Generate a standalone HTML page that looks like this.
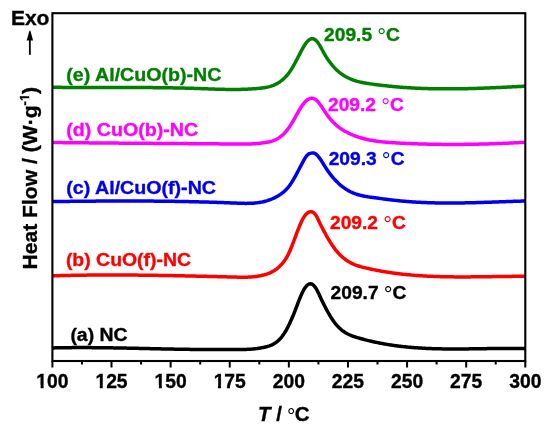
<!DOCTYPE html>
<html><head><meta charset="utf-8"><title>DSC curves</title>
<style>
html,body{margin:0;padding:0;background:#fff;width:550px;height:434px;overflow:hidden}
svg{display:block}
text{font-family:"Liberation Sans",Arial,sans-serif;font-weight:bold;stroke:currentColor;stroke-width:0.35px}
.deg{font-weight:normal;stroke:none}
</style></head><body>
<svg width="550" height="434" viewBox="0 0 550 434"><rect width="550" height="434" fill="#fff"/><path d="M52.4,87.27 53.4,87.29 54.4,87.30 55.4,87.31 56.4,87.32 57.4,87.33 58.4,87.34 59.4,87.35 60.4,87.36 61.4,87.37 62.4,87.38 63.4,87.39 64.4,87.40 65.4,87.41 66.4,87.41 67.4,87.42 68.4,87.43 69.4,87.44 70.4,87.44 71.4,87.45 72.4,87.45 73.4,87.46 74.4,87.46 75.4,87.47 76.4,87.47 77.4,87.48 78.4,87.48 79.4,87.48 80.4,87.49 81.4,87.49 82.4,87.49 83.4,87.49 84.4,87.50 85.4,87.50 86.4,87.50 87.4,87.50 88.4,87.50 89.4,87.51 90.4,87.51 91.4,87.51 92.4,87.51 93.4,87.51 94.4,87.51 95.4,87.51 96.4,87.51 97.4,87.51 98.4,87.51 99.4,87.51 100.4,87.51 101.4,87.51 102.4,87.51 103.4,87.51 104.4,87.51 105.4,87.51 106.4,87.51 107.4,87.51 108.4,87.51 109.4,87.51 110.4,87.51 111.4,87.51 112.4,87.51 113.4,87.51 114.4,87.51 115.4,87.51 116.4,87.51 117.4,87.51 118.4,87.51 119.4,87.51 120.4,87.51 121.4,87.51 122.4,87.51 123.4,87.51 124.4,87.51 125.4,87.51 126.4,87.52 127.4,87.52 128.4,87.52 129.4,87.52 130.4,87.52 131.4,87.52 132.4,87.53 133.4,87.53 134.4,87.53 135.4,87.53 136.4,87.54 137.4,87.54 138.4,87.54 139.4,87.55 140.4,87.55 141.4,87.55 142.4,87.56 143.4,87.56 144.4,87.57 145.4,87.57 146.4,87.58 147.4,87.59 148.4,87.59 149.4,87.60 150.4,87.61 151.4,87.61 152.4,87.62 153.4,87.63 154.4,87.64 155.4,87.65 156.4,87.66 157.4,87.67 158.4,87.68 159.4,87.69 160.4,87.70 161.4,87.71 162.4,87.72 163.4,87.73 164.4,87.75 165.4,87.76 166.4,87.77 167.4,87.79 168.4,87.80 169.4,87.82 170.4,87.83 171.4,87.85 172.4,87.87 173.4,87.89 174.4,87.90 175.4,87.92 176.4,87.94 177.4,87.96 178.4,87.98 179.4,88.00 180.4,88.02 181.4,88.05 182.4,88.07 183.4,88.09 184.4,88.12 185.4,88.14 186.4,88.17 187.4,88.19 188.4,88.22 189.4,88.25 190.4,88.27 191.4,88.30 192.4,88.33 193.4,88.36 194.4,88.39 195.4,88.42 196.4,88.46 197.4,88.49 198.4,88.52 199.4,88.56 200.4,88.59 201.4,88.63 202.4,88.67 203.4,88.70 204.4,88.74 205.4,88.78 206.4,88.81 207.4,88.85 208.4,88.89 209.4,88.92 210.4,88.96 211.4,88.99 212.4,89.03 213.4,89.06 214.4,89.10 215.4,89.13 216.4,89.16 217.4,89.19 218.4,89.22 219.4,89.25 220.4,89.28 221.4,89.31 222.4,89.33 223.4,89.35 224.4,89.37 225.4,89.39 226.4,89.41 227.4,89.42 228.4,89.44 229.4,89.45 230.4,89.46 231.4,89.46 232.4,89.47 233.4,89.47 234.4,89.47 235.4,89.46 236.4,89.46 237.4,89.44 238.4,89.43 239.4,89.41 240.4,89.40 241.4,89.37 242.4,89.35 243.4,89.31 244.4,89.28 245.4,89.24 246.4,89.20 247.4,89.16 248.4,89.11 249.4,89.05 250.4,88.99 251.4,88.93 252.4,88.87 253.4,88.79 254.4,88.72 255.4,88.64 256.4,88.55 257.4,88.46 258.4,88.37 259.4,88.27 260.4,88.16 261.4,88.05 262.4,87.93 263.4,87.79 264.4,87.65 265.4,87.49 266.4,87.31 267.4,87.10 268.4,86.88 269.4,86.63 270.4,86.35 271.4,86.04 272.4,85.70 273.4,85.32 274.4,84.90 275.4,84.44 276.4,83.94 277.4,83.39 278.4,82.80 279.4,82.16 280.4,81.46 281.4,80.70 282.4,79.89 283.4,79.02 284.4,78.09 285.4,77.09 286.4,76.01 287.4,74.85 288.4,73.60 289.4,72.26 290.4,70.82 291.4,69.27 292.4,67.63 293.4,65.90 294.4,64.11 295.4,62.26 296.4,60.37 297.4,58.45 298.4,56.52 299.4,54.59 300.4,52.67 301.4,50.79 302.4,48.95 303.4,47.18 304.4,45.51 305.4,43.97 306.4,42.59 307.4,41.38 308.4,40.39 309.4,39.61 310.4,39.07 311.4,38.76 312.4,38.69 313.4,38.85 314.4,39.26 315.4,39.91 316.4,40.80 317.4,41.95 318.4,43.32 319.4,44.89 320.4,46.62 321.4,48.44 322.4,50.29 323.4,52.13 324.4,53.91 325.4,55.59 326.4,57.20 327.4,58.73 328.4,60.20 329.4,61.60 330.4,62.94 331.4,64.21 332.4,65.42 333.4,66.57 334.4,67.66 335.4,68.70 336.4,69.69 337.4,70.62 338.4,71.50 339.4,72.34 340.4,73.13 341.4,73.87 342.4,74.58 343.4,75.24 344.4,75.87 345.4,76.46 346.4,77.01 347.4,77.53 348.4,78.03 349.4,78.49 350.4,78.93 351.4,79.34 352.4,79.73 353.4,80.09 354.4,80.43 355.4,80.76 356.4,81.06 357.4,81.35 358.4,81.61 359.4,81.86 360.4,82.10 361.4,82.32 362.4,82.53 363.4,82.73 364.4,82.91 365.4,83.09 366.4,83.25 367.4,83.41 368.4,83.57 369.4,83.71 370.4,83.86 371.4,84.00 372.4,84.13 373.4,84.27 374.4,84.40 375.4,84.53 376.4,84.66 377.4,84.79 378.4,84.91 379.4,85.04 380.4,85.16 381.4,85.28 382.4,85.40 383.4,85.51 384.4,85.63 385.4,85.74 386.4,85.85 387.4,85.95 388.4,86.06 389.4,86.16 390.4,86.27 391.4,86.36 392.4,86.46 393.4,86.56 394.4,86.65 395.4,86.74 396.4,86.83 397.4,86.92 398.4,87.00 399.4,87.08 400.4,87.16 401.4,87.24 402.4,87.32 403.4,87.39 404.4,87.46 405.4,87.53 406.4,87.60 407.4,87.67 408.4,87.73 409.4,87.79 410.4,87.85 411.4,87.91 412.4,87.97 413.4,88.02 414.4,88.08 415.4,88.13 416.4,88.18 417.4,88.22 418.4,88.27 419.4,88.31 420.4,88.35 421.4,88.39 422.4,88.43 423.4,88.47 424.4,88.50 425.4,88.54 426.4,88.57 427.4,88.60 428.4,88.63 429.4,88.65 430.4,88.68 431.4,88.70 432.4,88.72 433.4,88.74 434.4,88.76 435.4,88.78 436.4,88.79 437.4,88.81 438.4,88.82 439.4,88.83 440.4,88.84 441.4,88.85 442.4,88.86 443.4,88.86 444.4,88.87 445.4,88.87 446.4,88.87 447.4,88.87 448.4,88.87 449.4,88.87 450.4,88.87 451.4,88.86 452.4,88.85 453.4,88.85 454.4,88.84 455.4,88.83 456.4,88.82 457.4,88.81 458.4,88.79 459.4,88.78 460.4,88.76 461.4,88.75 462.4,88.73 463.4,88.71 464.4,88.69 465.4,88.67 466.4,88.65 467.4,88.63 468.4,88.60 469.4,88.58 470.4,88.55 471.4,88.53 472.4,88.50 473.4,88.47 474.4,88.44 475.4,88.41 476.4,88.38 477.4,88.35 478.4,88.32 479.4,88.28 480.4,88.25 481.4,88.21 482.4,88.18 483.4,88.14 484.4,88.11 485.4,88.07 486.4,88.03 487.4,87.99 488.4,87.95 489.4,87.91 490.4,87.87 491.4,87.83 492.4,87.79 493.4,87.74 494.4,87.70 495.4,87.66 496.4,87.61 497.4,87.57 498.4,87.52 499.4,87.48 500.4,87.43 501.4,87.39 502.4,87.34 503.4,87.29 504.4,87.24 505.4,87.20 506.4,87.15 507.4,87.10 508.4,87.05 509.4,87.00 510.4,86.95 511.4,86.90 512.4,86.85 513.4,86.80 514.4,86.75 515.4,86.70 516.4,86.65 517.4,86.60 518.4,86.55 519.4,86.50 520.4,86.45 521.4,86.39 522.4,86.34 523.4,86.29 524.4,86.24 525.3,86.19" fill="none" stroke="#008000" stroke-width="3.5" stroke-linejoin="round" stroke-linecap="butt"/><path d="M52.4,142.52 53.4,142.53 54.4,142.54 55.4,142.55 56.4,142.56 57.4,142.57 58.4,142.58 59.4,142.59 60.4,142.60 61.4,142.61 62.4,142.62 63.4,142.64 64.4,142.65 65.4,142.66 66.4,142.67 67.4,142.68 68.4,142.69 69.4,142.70 70.4,142.71 71.4,142.72 72.4,142.73 73.4,142.74 74.4,142.74 75.4,142.75 76.4,142.76 77.4,142.77 78.4,142.78 79.4,142.79 80.4,142.80 81.4,142.81 82.4,142.82 83.4,142.83 84.4,142.84 85.4,142.85 86.4,142.86 87.4,142.87 88.4,142.87 89.4,142.88 90.4,142.89 91.4,142.90 92.4,142.91 93.4,142.92 94.4,142.93 95.4,142.94 96.4,142.94 97.4,142.95 98.4,142.96 99.4,142.97 100.4,142.98 101.4,142.99 102.4,142.99 103.4,143.00 104.4,143.01 105.4,143.02 106.4,143.03 107.4,143.03 108.4,143.04 109.4,143.05 110.4,143.06 111.4,143.07 112.4,143.07 113.4,143.08 114.4,143.09 115.4,143.10 116.4,143.11 117.4,143.11 118.4,143.12 119.4,143.13 120.4,143.14 121.4,143.14 122.4,143.15 123.4,143.16 124.4,143.17 125.4,143.17 126.4,143.18 127.4,143.19 128.4,143.20 129.4,143.20 130.4,143.21 131.4,143.22 132.4,143.23 133.4,143.23 134.4,143.24 135.4,143.25 136.4,143.26 137.4,143.26 138.4,143.27 139.4,143.28 140.4,143.29 141.4,143.29 142.4,143.30 143.4,143.31 144.4,143.31 145.4,143.32 146.4,143.33 147.4,143.34 148.4,143.34 149.4,143.35 150.4,143.36 151.4,143.36 152.4,143.37 153.4,143.38 154.4,143.39 155.4,143.39 156.4,143.40 157.4,143.41 158.4,143.41 159.4,143.42 160.4,143.43 161.4,143.44 162.4,143.44 163.4,143.45 164.4,143.46 165.4,143.46 166.4,143.47 167.4,143.48 168.4,143.49 169.4,143.49 170.4,143.50 171.4,143.51 172.4,143.51 173.4,143.52 174.4,143.53 175.4,143.54 176.4,143.54 177.4,143.55 178.4,143.56 179.4,143.57 180.4,143.57 181.4,143.58 182.4,143.59 183.4,143.59 184.4,143.60 185.4,143.61 186.4,143.62 187.4,143.62 188.4,143.63 189.4,143.64 190.4,143.65 191.4,143.65 192.4,143.66 193.4,143.67 194.4,143.68 195.4,143.68 196.4,143.69 197.4,143.70 198.4,143.71 199.4,143.72 200.4,143.72 201.4,143.73 202.4,143.74 203.4,143.75 204.4,143.75 205.4,143.76 206.4,143.77 207.4,143.78 208.4,143.79 209.4,143.79 210.4,143.80 211.4,143.81 212.4,143.82 213.4,143.83 214.4,143.84 215.4,143.84 216.4,143.85 217.4,143.86 218.4,143.87 219.4,143.88 220.4,143.89 221.4,143.89 222.4,143.90 223.4,143.91 224.4,143.92 225.4,143.93 226.4,143.94 227.4,143.95 228.4,143.96 229.4,143.96 230.4,143.97 231.4,143.98 232.4,143.99 233.4,144.00 234.4,144.01 235.4,144.02 236.4,144.03 237.4,144.04 238.4,144.04 239.4,144.05 240.4,144.05 241.4,144.06 242.4,144.05 243.4,144.05 244.4,144.04 245.4,144.03 246.4,144.02 247.4,144.00 248.4,143.98 249.4,143.95 250.4,143.92 251.4,143.88 252.4,143.83 253.4,143.78 254.4,143.72 255.4,143.66 256.4,143.58 257.4,143.50 258.4,143.41 259.4,143.31 260.4,143.20 261.4,143.09 262.4,142.96 263.4,142.82 264.4,142.67 265.4,142.51 266.4,142.34 267.4,142.16 268.4,141.96 269.4,141.74 270.4,141.49 271.4,141.22 272.4,140.91 273.4,140.56 274.4,140.17 275.4,139.74 276.4,139.26 277.4,138.73 278.4,138.14 279.4,137.48 280.4,136.77 281.4,135.98 282.4,135.12 283.4,134.19 284.4,133.17 285.4,132.07 286.4,130.90 287.4,129.64 288.4,128.31 289.4,126.90 290.4,125.42 291.4,123.86 292.4,122.23 293.4,120.54 294.4,118.78 295.4,117.00 296.4,115.20 297.4,113.41 298.4,111.64 299.4,109.91 300.4,108.25 301.4,106.68 302.4,105.20 303.4,103.85 304.4,102.63 305.4,101.56 306.4,100.63 307.4,99.84 308.4,99.22 309.4,98.75 310.4,98.44 311.4,98.29 312.4,98.32 313.4,98.52 314.4,98.91 315.4,99.47 316.4,100.23 317.4,101.17 318.4,102.27 319.4,103.52 320.4,104.88 321.4,106.32 322.4,107.82 323.4,109.35 324.4,110.88 325.4,112.39 326.4,113.86 327.4,115.25 328.4,116.58 329.4,117.86 330.4,119.07 331.4,120.22 332.4,121.32 333.4,122.37 334.4,123.36 335.4,124.31 336.4,125.20 337.4,126.06 338.4,126.87 339.4,127.64 340.4,128.37 341.4,129.06 342.4,129.72 343.4,130.34 344.4,130.94 345.4,131.51 346.4,132.05 347.4,132.56 348.4,133.06 349.4,133.53 350.4,133.99 351.4,134.42 352.4,134.85 353.4,135.25 354.4,135.65 355.4,136.03 356.4,136.39 357.4,136.74 358.4,137.08 359.4,137.40 360.4,137.71 361.4,138.00 362.4,138.29 363.4,138.56 364.4,138.82 365.4,139.07 366.4,139.31 367.4,139.54 368.4,139.75 369.4,139.96 370.4,140.16 371.4,140.34 372.4,140.52 373.4,140.69 374.4,140.85 375.4,141.01 376.4,141.15 377.4,141.29 378.4,141.42 379.4,141.54 380.4,141.66 381.4,141.77 382.4,141.87 383.4,141.97 384.4,142.07 385.4,142.16 386.4,142.24 387.4,142.32 388.4,142.40 389.4,142.47 390.4,142.54 391.4,142.61 392.4,142.67 393.4,142.73 394.4,142.79 395.4,142.85 396.4,142.91 397.4,142.96 398.4,143.02 399.4,143.07 400.4,143.13 401.4,143.18 402.4,143.23 403.4,143.28 404.4,143.32 405.4,143.37 406.4,143.42 407.4,143.46 408.4,143.51 409.4,143.55 410.4,143.59 411.4,143.63 412.4,143.67 413.4,143.71 414.4,143.75 415.4,143.78 416.4,143.82 417.4,143.85 418.4,143.89 419.4,143.92 420.4,143.95 421.4,143.98 422.4,144.01 423.4,144.04 424.4,144.07 425.4,144.09 426.4,144.12 427.4,144.14 428.4,144.16 429.4,144.19 430.4,144.21 431.4,144.23 432.4,144.25 433.4,144.27 434.4,144.28 435.4,144.30 436.4,144.32 437.4,144.33 438.4,144.34 439.4,144.36 440.4,144.37 441.4,144.38 442.4,144.39 443.4,144.40 444.4,144.40 445.4,144.41 446.4,144.42 447.4,144.42 448.4,144.43 449.4,144.43 450.4,144.43 451.4,144.43 452.4,144.44 453.4,144.43 454.4,144.43 455.4,144.43 456.4,144.43 457.4,144.42 458.4,144.42 459.4,144.41 460.4,144.41 461.4,144.40 462.4,144.39 463.4,144.38 464.4,144.37 465.4,144.36 466.4,144.35 467.4,144.34 468.4,144.32 469.4,144.31 470.4,144.30 471.4,144.28 472.4,144.26 473.4,144.25 474.4,144.23 475.4,144.21 476.4,144.19 477.4,144.17 478.4,144.15 479.4,144.12 480.4,144.10 481.4,144.08 482.4,144.05 483.4,144.03 484.4,144.00 485.4,143.97 486.4,143.94 487.4,143.92 488.4,143.89 489.4,143.86 490.4,143.82 491.4,143.79 492.4,143.76 493.4,143.73 494.4,143.69 495.4,143.66 496.4,143.62 497.4,143.59 498.4,143.55 499.4,143.51 500.4,143.47 501.4,143.44 502.4,143.40 503.4,143.36 504.4,143.31 505.4,143.27 506.4,143.23 507.4,143.19 508.4,143.14 509.4,143.10 510.4,143.05 511.4,143.01 512.4,142.96 513.4,142.91 514.4,142.86 515.4,142.81 516.4,142.77 517.4,142.72 518.4,142.66 519.4,142.61 520.4,142.56 521.4,142.51 522.4,142.46 523.4,142.40 524.4,142.35 525.3,142.30" fill="none" stroke="#ff00ff" stroke-width="3.5" stroke-linejoin="round" stroke-linecap="butt"/><path d="M52.4,201.60 53.4,201.58 54.4,201.57 55.4,201.56 56.4,201.54 57.4,201.53 58.4,201.51 59.4,201.50 60.4,201.49 61.4,201.48 62.4,201.46 63.4,201.45 64.4,201.44 65.4,201.43 66.4,201.41 67.4,201.40 68.4,201.39 69.4,201.38 70.4,201.37 71.4,201.35 72.4,201.34 73.4,201.33 74.4,201.32 75.4,201.31 76.4,201.30 77.4,201.29 78.4,201.28 79.4,201.27 80.4,201.26 81.4,201.25 82.4,201.24 83.4,201.23 84.4,201.22 85.4,201.21 86.4,201.20 87.4,201.19 88.4,201.18 89.4,201.17 90.4,201.17 91.4,201.16 92.4,201.15 93.4,201.14 94.4,201.13 95.4,201.13 96.4,201.12 97.4,201.11 98.4,201.11 99.4,201.10 100.4,201.09 101.4,201.09 102.4,201.08 103.4,201.08 104.4,201.07 105.4,201.07 106.4,201.06 107.4,201.06 108.4,201.05 109.4,201.05 110.4,201.04 111.4,201.04 112.4,201.04 113.4,201.03 114.4,201.03 115.4,201.03 116.4,201.03 117.4,201.02 118.4,201.02 119.4,201.02 120.4,201.02 121.4,201.02 122.4,201.02 123.4,201.01 124.4,201.01 125.4,201.01 126.4,201.01 127.4,201.01 128.4,201.01 129.4,201.02 130.4,201.02 131.4,201.02 132.4,201.02 133.4,201.02 134.4,201.02 135.4,201.03 136.4,201.03 137.4,201.03 138.4,201.04 139.4,201.04 140.4,201.04 141.4,201.05 142.4,201.05 143.4,201.06 144.4,201.06 145.4,201.07 146.4,201.07 147.4,201.08 148.4,201.09 149.4,201.09 150.4,201.10 151.4,201.11 152.4,201.12 153.4,201.12 154.4,201.13 155.4,201.14 156.4,201.15 157.4,201.16 158.4,201.17 159.4,201.18 160.4,201.19 161.4,201.20 162.4,201.21 163.4,201.22 164.4,201.23 165.4,201.25 166.4,201.26 167.4,201.27 168.4,201.28 169.4,201.30 170.4,201.31 171.4,201.33 172.4,201.34 173.4,201.36 174.4,201.37 175.4,201.39 176.4,201.40 177.4,201.42 178.4,201.44 179.4,201.45 180.4,201.47 181.4,201.49 182.4,201.51 183.4,201.53 184.4,201.54 185.4,201.56 186.4,201.58 187.4,201.60 188.4,201.62 189.4,201.65 190.4,201.67 191.4,201.69 192.4,201.71 193.4,201.73 194.4,201.76 195.4,201.78 196.4,201.80 197.4,201.83 198.4,201.85 199.4,201.88 200.4,201.90 201.4,201.93 202.4,201.96 203.4,201.98 204.4,202.01 205.4,202.04 206.4,202.07 207.4,202.10 208.4,202.12 209.4,202.15 210.4,202.18 211.4,202.21 212.4,202.25 213.4,202.28 214.4,202.31 215.4,202.34 216.4,202.37 217.4,202.41 218.4,202.44 219.4,202.47 220.4,202.51 221.4,202.54 222.4,202.58 223.4,202.61 224.4,202.65 225.4,202.69 226.4,202.72 227.4,202.76 228.4,202.80 229.4,202.84 230.4,202.88 231.4,202.92 232.4,202.96 233.4,203.00 234.4,203.04 235.4,203.08 236.4,203.12 237.4,203.16 238.4,203.20 239.4,203.24 240.4,203.27 241.4,203.30 242.4,203.33 243.4,203.35 244.4,203.37 245.4,203.38 246.4,203.38 247.4,203.37 248.4,203.36 249.4,203.34 250.4,203.31 251.4,203.26 252.4,203.21 253.4,203.14 254.4,203.07 255.4,202.98 256.4,202.87 257.4,202.75 258.4,202.62 259.4,202.47 260.4,202.30 261.4,202.11 262.4,201.91 263.4,201.69 264.4,201.45 265.4,201.19 266.4,200.91 267.4,200.61 268.4,200.28 269.4,199.93 270.4,199.56 271.4,199.17 272.4,198.75 273.4,198.30 274.4,197.83 275.4,197.33 276.4,196.81 277.4,196.25 278.4,195.67 279.4,195.05 280.4,194.40 281.4,193.70 282.4,192.94 283.4,192.13 284.4,191.26 285.4,190.31 286.4,189.30 287.4,188.20 288.4,187.01 289.4,185.74 290.4,184.36 291.4,182.88 292.4,181.30 293.4,179.64 294.4,177.90 295.4,176.09 296.4,174.24 297.4,172.36 298.4,170.44 299.4,168.52 300.4,166.60 301.4,164.69 302.4,162.81 303.4,160.96 304.4,159.20 305.4,157.58 306.4,156.16 307.4,155.00 308.4,154.17 309.4,153.67 310.4,153.37 311.4,153.10 312.4,152.90 313.4,152.90 314.4,153.18 315.4,153.72 316.4,154.49 317.4,155.46 318.4,156.60 319.4,157.90 320.4,159.31 321.4,160.81 322.4,162.38 323.4,163.98 324.4,165.59 325.4,167.17 326.4,168.71 327.4,170.20 328.4,171.64 329.4,173.02 330.4,174.35 331.4,175.63 332.4,176.86 333.4,178.05 334.4,179.18 335.4,180.27 336.4,181.32 337.4,182.32 338.4,183.28 339.4,184.19 340.4,185.07 341.4,185.90 342.4,186.69 343.4,187.44 344.4,188.16 345.4,188.84 346.4,189.48 347.4,190.09 348.4,190.66 349.4,191.20 350.4,191.71 351.4,192.19 352.4,192.63 353.4,193.05 354.4,193.45 355.4,193.82 356.4,194.16 357.4,194.48 358.4,194.78 359.4,195.06 360.4,195.32 361.4,195.56 362.4,195.79 363.4,196.00 364.4,196.20 365.4,196.38 366.4,196.56 367.4,196.72 368.4,196.88 369.4,197.03 370.4,197.17 371.4,197.31 372.4,197.44 373.4,197.58 374.4,197.71 375.4,197.84 376.4,197.97 377.4,198.10 378.4,198.24 379.4,198.37 380.4,198.50 381.4,198.64 382.4,198.77 383.4,198.90 384.4,199.03 385.4,199.16 386.4,199.29 387.4,199.42 388.4,199.55 389.4,199.67 390.4,199.79 391.4,199.92 392.4,200.04 393.4,200.15 394.4,200.27 395.4,200.38 396.4,200.49 397.4,200.60 398.4,200.70 399.4,200.80 400.4,200.90 401.4,201.00 402.4,201.09 403.4,201.18 404.4,201.27 405.4,201.36 406.4,201.44 407.4,201.52 408.4,201.60 409.4,201.68 410.4,201.75 411.4,201.82 412.4,201.89 413.4,201.96 414.4,202.02 415.4,202.08 416.4,202.14 417.4,202.20 418.4,202.25 419.4,202.31 420.4,202.36 421.4,202.41 422.4,202.45 423.4,202.50 424.4,202.54 425.4,202.58 426.4,202.62 427.4,202.66 428.4,202.69 429.4,202.73 430.4,202.76 431.4,202.79 432.4,202.81 433.4,202.84 434.4,202.86 435.4,202.88 436.4,202.90 437.4,202.92 438.4,202.94 439.4,202.95 440.4,202.97 441.4,202.98 442.4,202.99 443.4,203.00 444.4,203.01 445.4,203.01 446.4,203.02 447.4,203.02 448.4,203.02 449.4,203.02 450.4,203.02 451.4,203.02 452.4,203.02 453.4,203.01 454.4,203.00 455.4,203.00 456.4,202.99 457.4,202.98 458.4,202.97 459.4,202.95 460.4,202.94 461.4,202.93 462.4,202.91 463.4,202.90 464.4,202.88 465.4,202.86 466.4,202.84 467.4,202.82 468.4,202.80 469.4,202.78 470.4,202.75 471.4,202.73 472.4,202.71 473.4,202.68 474.4,202.66 475.4,202.63 476.4,202.60 477.4,202.57 478.4,202.54 479.4,202.52 480.4,202.49 481.4,202.46 482.4,202.43 483.4,202.39 484.4,202.36 485.4,202.33 486.4,202.30 487.4,202.26 488.4,202.23 489.4,202.20 490.4,202.16 491.4,202.13 492.4,202.09 493.4,202.06 494.4,202.03 495.4,201.99 496.4,201.95 497.4,201.92 498.4,201.88 499.4,201.85 500.4,201.81 501.4,201.78 502.4,201.74 503.4,201.71 504.4,201.67 505.4,201.63 506.4,201.60 507.4,201.56 508.4,201.53 509.4,201.49 510.4,201.46 511.4,201.42 512.4,201.39 513.4,201.36 514.4,201.32 515.4,201.29 516.4,201.26 517.4,201.22 518.4,201.19 519.4,201.16 520.4,201.13 521.4,201.10 522.4,201.07 523.4,201.04 524.4,201.01 525.3,200.99" fill="none" stroke="#0000ee" stroke-width="3.5" stroke-linejoin="round" stroke-linecap="butt"/><path d="M52.4,275.83 53.4,275.80 54.4,275.77 55.4,275.74 56.4,275.71 57.4,275.68 58.4,275.66 59.4,275.63 60.4,275.61 61.4,275.58 62.4,275.56 63.4,275.53 64.4,275.51 65.4,275.49 66.4,275.46 67.4,275.44 68.4,275.42 69.4,275.40 70.4,275.38 71.4,275.36 72.4,275.34 73.4,275.32 74.4,275.31 75.4,275.29 76.4,275.27 77.4,275.26 78.4,275.24 79.4,275.23 80.4,275.21 81.4,275.20 82.4,275.18 83.4,275.17 84.4,275.16 85.4,275.15 86.4,275.13 87.4,275.12 88.4,275.11 89.4,275.10 90.4,275.09 91.4,275.08 92.4,275.07 93.4,275.07 94.4,275.06 95.4,275.05 96.4,275.04 97.4,275.04 98.4,275.03 99.4,275.03 100.4,275.02 101.4,275.02 102.4,275.01 103.4,275.01 104.4,275.01 105.4,275.00 106.4,275.00 107.4,275.00 108.4,275.00 109.4,275.00 110.4,274.99 111.4,274.99 112.4,274.99 113.4,275.00 114.4,275.00 115.4,275.00 116.4,275.00 117.4,275.00 118.4,275.00 119.4,275.01 120.4,275.01 121.4,275.01 122.4,275.02 123.4,275.02 124.4,275.03 125.4,275.03 126.4,275.04 127.4,275.04 128.4,275.05 129.4,275.06 130.4,275.06 131.4,275.07 132.4,275.08 133.4,275.08 134.4,275.09 135.4,275.10 136.4,275.11 137.4,275.12 138.4,275.13 139.4,275.14 140.4,275.15 141.4,275.16 142.4,275.17 143.4,275.18 144.4,275.19 145.4,275.20 146.4,275.22 147.4,275.23 148.4,275.24 149.4,275.25 150.4,275.27 151.4,275.28 152.4,275.29 153.4,275.31 154.4,275.32 155.4,275.34 156.4,275.35 157.4,275.37 158.4,275.38 159.4,275.40 160.4,275.41 161.4,275.43 162.4,275.45 163.4,275.46 164.4,275.48 165.4,275.50 166.4,275.51 167.4,275.53 168.4,275.55 169.4,275.57 170.4,275.59 171.4,275.60 172.4,275.62 173.4,275.64 174.4,275.66 175.4,275.68 176.4,275.70 177.4,275.72 178.4,275.74 179.4,275.76 180.4,275.78 181.4,275.80 182.4,275.82 183.4,275.84 184.4,275.86 185.4,275.88 186.4,275.90 187.4,275.93 188.4,275.95 189.4,275.97 190.4,275.99 191.4,276.01 192.4,276.04 193.4,276.06 194.4,276.08 195.4,276.10 196.4,276.13 197.4,276.15 198.4,276.17 199.4,276.19 200.4,276.22 201.4,276.24 202.4,276.26 203.4,276.29 204.4,276.31 205.4,276.34 206.4,276.36 207.4,276.38 208.4,276.41 209.4,276.43 210.4,276.46 211.4,276.48 212.4,276.51 213.4,276.53 214.4,276.55 215.4,276.58 216.4,276.60 217.4,276.63 218.4,276.65 219.4,276.68 220.4,276.70 221.4,276.73 222.4,276.75 223.4,276.78 224.4,276.80 225.4,276.83 226.4,276.85 227.4,276.88 228.4,276.91 229.4,276.93 230.4,276.96 231.4,276.98 232.4,277.01 233.4,277.03 234.4,277.06 235.4,277.08 236.4,277.11 237.4,277.13 238.4,277.15 239.4,277.17 240.4,277.19 241.4,277.20 242.4,277.21 243.4,277.21 244.4,277.20 245.4,277.19 246.4,277.17 247.4,277.14 248.4,277.11 249.4,277.06 250.4,277.00 251.4,276.94 252.4,276.86 253.4,276.77 254.4,276.66 255.4,276.54 256.4,276.41 257.4,276.26 258.4,276.10 259.4,275.92 260.4,275.72 261.4,275.51 262.4,275.27 263.4,275.02 264.4,274.75 265.4,274.45 266.4,274.14 267.4,273.80 268.4,273.43 269.4,273.04 270.4,272.61 271.4,272.14 272.4,271.63 273.4,271.07 274.4,270.46 275.4,269.80 276.4,269.08 277.4,268.31 278.4,267.46 279.4,266.55 280.4,265.57 281.4,264.51 282.4,263.37 283.4,262.14 284.4,260.82 285.4,259.37 286.4,257.78 287.4,256.03 288.4,254.09 289.4,251.97 290.4,249.68 291.4,247.26 292.4,244.73 293.4,242.12 294.4,239.45 295.4,236.77 296.4,234.09 297.4,231.43 298.4,228.84 299.4,226.34 300.4,223.95 301.4,221.73 302.4,219.72 303.4,217.93 304.4,216.38 305.4,215.04 306.4,213.93 307.4,213.03 308.4,212.36 309.4,211.91 310.4,211.70 311.4,211.73 312.4,212.03 313.4,212.60 314.4,213.46 315.4,214.62 316.4,216.10 317.4,217.93 318.4,220.10 319.4,222.32 320.4,224.36 321.4,226.28 322.4,228.18 323.4,230.06 324.4,231.92 325.4,233.75 326.4,235.55 327.4,237.31 328.4,239.04 329.4,240.71 330.4,242.34 331.4,243.91 332.4,245.42 333.4,246.87 334.4,248.25 335.4,249.57 336.4,250.82 337.4,252.00 338.4,253.13 339.4,254.20 340.4,255.21 341.4,256.17 342.4,257.07 343.4,257.92 344.4,258.73 345.4,259.49 346.4,260.20 347.4,260.87 348.4,261.50 349.4,262.09 350.4,262.64 351.4,263.16 352.4,263.65 353.4,264.10 354.4,264.53 355.4,264.93 356.4,265.30 357.4,265.65 358.4,265.98 359.4,266.29 360.4,266.59 361.4,266.87 362.4,267.13 363.4,267.39 364.4,267.63 365.4,267.87 366.4,268.11 367.4,268.34 368.4,268.56 369.4,268.78 370.4,269.00 371.4,269.22 372.4,269.43 373.4,269.63 374.4,269.84 375.4,270.04 376.4,270.23 377.4,270.42 378.4,270.61 379.4,270.80 380.4,270.98 381.4,271.16 382.4,271.33 383.4,271.50 384.4,271.67 385.4,271.84 386.4,272.00 387.4,272.16 388.4,272.31 389.4,272.46 390.4,272.61 391.4,272.76 392.4,272.90 393.4,273.04 394.4,273.17 395.4,273.31 396.4,273.44 397.4,273.56 398.4,273.69 399.4,273.81 400.4,273.93 401.4,274.04 402.4,274.15 403.4,274.26 404.4,274.37 405.4,274.47 406.4,274.58 407.4,274.67 408.4,274.77 409.4,274.86 410.4,274.95 411.4,275.04 412.4,275.13 413.4,275.21 414.4,275.29 415.4,275.37 416.4,275.45 417.4,275.52 418.4,275.59 419.4,275.66 420.4,275.73 421.4,275.79 422.4,275.86 423.4,275.92 424.4,275.98 425.4,276.03 426.4,276.09 427.4,276.14 428.4,276.19 429.4,276.24 430.4,276.28 431.4,276.33 432.4,276.37 433.4,276.41 434.4,276.45 435.4,276.48 436.4,276.52 437.4,276.55 438.4,276.58 439.4,276.61 440.4,276.64 441.4,276.67 442.4,276.69 443.4,276.72 444.4,276.74 445.4,276.76 446.4,276.78 447.4,276.80 448.4,276.81 449.4,276.83 450.4,276.84 451.4,276.85 452.4,276.86 453.4,276.87 454.4,276.88 455.4,276.89 456.4,276.89 457.4,276.90 458.4,276.90 459.4,276.91 460.4,276.91 461.4,276.91 462.4,276.91 463.4,276.91 464.4,276.91 465.4,276.90 466.4,276.90 467.4,276.90 468.4,276.89 469.4,276.88 470.4,276.88 471.4,276.87 472.4,276.86 473.4,276.85 474.4,276.84 475.4,276.83 476.4,276.82 477.4,276.81 478.4,276.80 479.4,276.79 480.4,276.78 481.4,276.77 482.4,276.75 483.4,276.74 484.4,276.73 485.4,276.71 486.4,276.70 487.4,276.69 488.4,276.67 489.4,276.66 490.4,276.64 491.4,276.63 492.4,276.61 493.4,276.60 494.4,276.59 495.4,276.57 496.4,276.56 497.4,276.54 498.4,276.53 499.4,276.51 500.4,276.50 501.4,276.49 502.4,276.47 503.4,276.46 504.4,276.45 505.4,276.44 506.4,276.43 507.4,276.42 508.4,276.40 509.4,276.39 510.4,276.38 511.4,276.38 512.4,276.37 513.4,276.36 514.4,276.35 515.4,276.35 516.4,276.34 517.4,276.33 518.4,276.33 519.4,276.33 520.4,276.32 521.4,276.32 522.4,276.32 523.4,276.32 524.4,276.32 525.3,276.32" fill="none" stroke="#ff0000" stroke-width="3.5" stroke-linejoin="round" stroke-linecap="butt"/><path d="M52.4,347.93 53.4,347.91 54.4,347.89 55.4,347.86 56.4,347.84 57.4,347.82 58.4,347.80 59.4,347.78 60.4,347.77 61.4,347.75 62.4,347.73 63.4,347.72 64.4,347.71 65.4,347.69 66.4,347.68 67.4,347.67 68.4,347.66 69.4,347.65 70.4,347.64 71.4,347.63 72.4,347.62 73.4,347.62 74.4,347.61 75.4,347.61 76.4,347.60 77.4,347.60 78.4,347.59 79.4,347.59 80.4,347.59 81.4,347.59 82.4,347.59 83.4,347.59 84.4,347.59 85.4,347.59 86.4,347.60 87.4,347.60 88.4,347.61 89.4,347.61 90.4,347.61 91.4,347.62 92.4,347.63 93.4,347.63 94.4,347.64 95.4,347.65 96.4,347.66 97.4,347.67 98.4,347.68 99.4,347.69 100.4,347.70 101.4,347.71 102.4,347.72 103.4,347.73 104.4,347.75 105.4,347.76 106.4,347.77 107.4,347.79 108.4,347.80 109.4,347.82 110.4,347.83 111.4,347.85 112.4,347.86 113.4,347.88 114.4,347.89 115.4,347.91 116.4,347.93 117.4,347.95 118.4,347.96 119.4,347.98 120.4,348.00 121.4,348.02 122.4,348.04 123.4,348.06 124.4,348.08 125.4,348.10 126.4,348.12 127.4,348.14 128.4,348.16 129.4,348.18 130.4,348.20 131.4,348.22 132.4,348.24 133.4,348.26 134.4,348.29 135.4,348.31 136.4,348.33 137.4,348.35 138.4,348.37 139.4,348.39 140.4,348.42 141.4,348.44 142.4,348.46 143.4,348.48 144.4,348.51 145.4,348.53 146.4,348.55 147.4,348.57 148.4,348.59 149.4,348.62 150.4,348.64 151.4,348.66 152.4,348.68 153.4,348.71 154.4,348.73 155.4,348.75 156.4,348.77 157.4,348.79 158.4,348.82 159.4,348.84 160.4,348.86 161.4,348.88 162.4,348.90 163.4,348.92 164.4,348.94 165.4,348.96 166.4,348.98 167.4,349.00 168.4,349.02 169.4,349.04 170.4,349.06 171.4,349.08 172.4,349.10 173.4,349.12 174.4,349.14 175.4,349.16 176.4,349.17 177.4,349.19 178.4,349.21 179.4,349.23 180.4,349.24 181.4,349.26 182.4,349.27 183.4,349.29 184.4,349.30 185.4,349.32 186.4,349.33 187.4,349.35 188.4,349.36 189.4,349.37 190.4,349.39 191.4,349.40 192.4,349.41 193.4,349.42 194.4,349.43 195.4,349.44 196.4,349.45 197.4,349.46 198.4,349.47 199.4,349.48 200.4,349.49 201.4,349.50 202.4,349.51 203.4,349.52 204.4,349.53 205.4,349.53 206.4,349.54 207.4,349.55 208.4,349.55 209.4,349.56 210.4,349.57 211.4,349.57 212.4,349.58 213.4,349.58 214.4,349.58 215.4,349.59 216.4,349.59 217.4,349.60 218.4,349.60 219.4,349.60 220.4,349.60 221.4,349.61 222.4,349.61 223.4,349.61 224.4,349.61 225.4,349.61 226.4,349.61 227.4,349.61 228.4,349.61 229.4,349.61 230.4,349.61 231.4,349.61 232.4,349.61 233.4,349.60 234.4,349.60 235.4,349.60 236.4,349.60 237.4,349.59 238.4,349.58 239.4,349.58 240.4,349.56 241.4,349.55 242.4,349.53 243.4,349.51 244.4,349.48 245.4,349.45 246.4,349.41 247.4,349.37 248.4,349.32 249.4,349.26 250.4,349.20 251.4,349.12 252.4,349.04 253.4,348.95 254.4,348.85 255.4,348.74 256.4,348.62 257.4,348.49 258.4,348.34 259.4,348.19 260.4,348.02 261.4,347.84 262.4,347.64 263.4,347.43 264.4,347.21 265.4,346.97 266.4,346.72 267.4,346.45 268.4,346.15 269.4,345.83 270.4,345.46 271.4,345.06 272.4,344.60 273.4,344.10 274.4,343.53 275.4,342.89 276.4,342.18 277.4,341.39 278.4,340.51 279.4,339.54 280.4,338.48 281.4,337.31 282.4,336.03 283.4,334.64 284.4,333.13 285.4,331.51 286.4,329.77 287.4,327.94 288.4,326.00 289.4,323.96 290.4,321.82 291.4,319.59 292.4,317.27 293.4,314.86 294.4,312.37 295.4,309.80 296.4,307.18 297.4,304.55 298.4,301.94 299.4,299.39 300.4,296.94 301.4,294.61 302.4,292.44 303.4,290.48 304.4,288.74 305.4,287.26 306.4,286.03 307.4,285.07 308.4,284.37 309.4,283.96 310.4,283.82 311.4,283.97 312.4,284.42 313.4,285.16 314.4,286.20 315.4,287.54 316.4,289.16 317.4,291.00 318.4,292.99 319.4,295.10 320.4,297.25 321.4,299.40 322.4,301.50 323.4,303.55 324.4,305.56 325.4,307.51 326.4,309.40 327.4,311.24 328.4,313.01 329.4,314.73 330.4,316.37 331.4,317.96 332.4,319.47 333.4,320.91 334.4,322.28 335.4,323.57 336.4,324.78 337.4,325.92 338.4,326.98 339.4,327.97 340.4,328.90 341.4,329.76 342.4,330.56 343.4,331.30 344.4,331.99 345.4,332.63 346.4,333.23 347.4,333.77 348.4,334.28 349.4,334.76 350.4,335.20 351.4,335.61 352.4,335.99 353.4,336.35 354.4,336.69 355.4,337.01 356.4,337.32 357.4,337.62 358.4,337.92 359.4,338.21 360.4,338.49 361.4,338.77 362.4,339.05 363.4,339.31 364.4,339.58 365.4,339.84 366.4,340.10 367.4,340.35 368.4,340.59 369.4,340.83 370.4,341.07 371.4,341.31 372.4,341.53 373.4,341.76 374.4,341.98 375.4,342.19 376.4,342.40 377.4,342.61 378.4,342.81 379.4,343.01 380.4,343.21 381.4,343.40 382.4,343.58 383.4,343.76 384.4,343.94 385.4,344.12 386.4,344.29 387.4,344.45 388.4,344.62 389.4,344.77 390.4,344.93 391.4,345.08 392.4,345.23 393.4,345.37 394.4,345.51 395.4,345.65 396.4,345.79 397.4,345.92 398.4,346.04 399.4,346.17 400.4,346.29 401.4,346.40 402.4,346.52 403.4,346.63 404.4,346.74 405.4,346.84 406.4,346.94 407.4,347.04 408.4,347.13 409.4,347.23 410.4,347.32 411.4,347.40 412.4,347.49 413.4,347.57 414.4,347.65 415.4,347.72 416.4,347.79 417.4,347.86 418.4,347.93 419.4,348.00 420.4,348.06 421.4,348.12 422.4,348.18 423.4,348.23 424.4,348.28 425.4,348.33 426.4,348.38 427.4,348.43 428.4,348.47 429.4,348.51 430.4,348.55 431.4,348.59 432.4,348.63 433.4,348.66 434.4,348.69 435.4,348.72 436.4,348.75 437.4,348.77 438.4,348.80 439.4,348.82 440.4,348.84 441.4,348.86 442.4,348.88 443.4,348.89 444.4,348.91 445.4,348.92 446.4,348.93 447.4,348.94 448.4,348.95 449.4,348.96 450.4,348.96 451.4,348.97 452.4,348.97 453.4,348.97 454.4,348.97 455.4,348.97 456.4,348.97 457.4,348.97 458.4,348.96 459.4,348.96 460.4,348.95 461.4,348.95 462.4,348.94 463.4,348.93 464.4,348.93 465.4,348.92 466.4,348.91 467.4,348.90 468.4,348.89 469.4,348.87 470.4,348.86 471.4,348.85 472.4,348.84 473.4,348.82 474.4,348.81 475.4,348.80 476.4,348.78 477.4,348.77 478.4,348.75 479.4,348.74 480.4,348.72 481.4,348.71 482.4,348.69 483.4,348.68 484.4,348.66 485.4,348.65 486.4,348.63 487.4,348.62 488.4,348.61 489.4,348.59 490.4,348.58 491.4,348.56 492.4,348.55 493.4,348.54 494.4,348.53 495.4,348.52 496.4,348.50 497.4,348.49 498.4,348.48 499.4,348.47 500.4,348.47 501.4,348.46 502.4,348.45 503.4,348.45 504.4,348.44 505.4,348.44 506.4,348.43 507.4,348.43 508.4,348.43 509.4,348.43 510.4,348.43 511.4,348.43 512.4,348.43 513.4,348.44 514.4,348.44 515.4,348.45 516.4,348.46 517.4,348.47 518.4,348.48 519.4,348.49 520.4,348.51 521.4,348.52 522.4,348.54 523.4,348.56 524.4,348.58 525.3,348.60" fill="none" stroke="#000000" stroke-width="3.5" stroke-linejoin="round" stroke-linecap="butt"/><rect x="52.4" y="13.2" width="472.90" height="347.80" fill="none" stroke="#000" stroke-width="2.1"/><path d="M52.40,361.00V367.50 M81.96,361.00V364.50 M111.51,361.00V367.50 M141.07,361.00V364.50 M170.62,361.00V367.50 M200.18,361.00V364.50 M229.74,361.00V367.50 M259.29,361.00V364.50 M288.85,361.00V367.50 M318.41,361.00V364.50 M347.96,361.00V367.50 M377.52,361.00V364.50 M407.07,361.00V367.50 M436.63,361.00V364.50 M466.19,361.00V367.50 M495.74,361.00V364.50 M525.30,361.00V367.50" stroke="#000" stroke-width="2" fill="none"/><text x="52.40" y="387.6" text-anchor="middle" font-size="19.3" color="#000">100</text><text x="111.51" y="387.6" text-anchor="middle" font-size="19.3" color="#000">125</text><text x="170.62" y="387.6" text-anchor="middle" font-size="19.3" color="#000">150</text><text x="229.74" y="387.6" text-anchor="middle" font-size="19.3" color="#000">175</text><text x="288.85" y="387.6" text-anchor="middle" font-size="19.3" color="#000">200</text><text x="347.96" y="387.6" text-anchor="middle" font-size="19.3" color="#000">225</text><text x="407.07" y="387.6" text-anchor="middle" font-size="19.3" color="#000">250</text><text x="466.19" y="387.6" text-anchor="middle" font-size="19.3" color="#000">275</text><text x="525.30" y="387.6" text-anchor="middle" font-size="19.3" color="#000">300</text>
<text transform="translate(10.9,25.3) scale(1.012,1)" font-size="20.8">Exo</text>
<path d="M29.85,54.8V38" stroke="#000" stroke-width="1.8"/>
<path d="M29.4,30.7H30.4L33.1,40.6H26.7Z" fill="#000"/>
<text transform="translate(36.6,269.5) rotate(-90)" font-size="21.1">Heat Flow / (W<tspan font-weight="bold">·</tspan>g<tspan dy="-8" font-size="13">-1</tspan><tspan dy="8">)</tspan></text>
<path transform="translate(36.6,269.5) rotate(-90)" d="M168.51,-9.58H171.27V-7.10H168.51Z M173.36,-9.58H175.96V-7.10H173.36Z" fill="#fff"/>
<text x="258" y="420.5" font-size="20.5"><tspan font-style="italic">T</tspan> / <tspan class="deg" font-size="21" dx="-0.7" dy="2.4">°</tspan><tspan dx="-0.6" dy="-2.4">C</tspan></text>
<text transform="translate(66.3,81.4) scale(1.056,1)" font-size="18.6" fill="#008000" color="#008000">(e) Al/CuO(b)-NC</text>
<text transform="translate(66.3,135.7) scale(1.056,1)" font-size="18.6" fill="#ff00ff" color="#ff00ff">(d) CuO(b)-NC</text>
<text transform="translate(66.3,193.8) scale(1.056,1)" font-size="18.6" fill="#0000ee" color="#0000ee">(c) Al/CuO(f)-NC</text>
<text transform="translate(65.9,266.1) scale(1.045,1)" font-size="18.6" fill="#ff0000" color="#ff0000">(b) CuO(f)-NC</text>
<text transform="translate(70.4,340.7) scale(1.045,1)" font-size="18.6" fill="#000" color="#000">(a) NC</text>
<text x="324.1" y="41.2" font-size="19.2" fill="#008000" color="#008000">209.5 <tspan class="deg" font-size="22" dx="-0.2" dy="2.8">°</tspan><tspan dx="0" dy="-2.8">C</tspan></text>
<text x="328" y="111.3" font-size="19.2" fill="#ff00ff" color="#ff00ff">209.2 <tspan class="deg" font-size="22" dx="-0.2" dy="2.8">°</tspan><tspan dx="0" dy="-2.8">C</tspan></text>
<text x="328.7" y="165.1" font-size="19.2" fill="#0000ee" color="#0000ee">209.3 <tspan class="deg" font-size="22" dx="-0.2" dy="2.8">°</tspan><tspan dx="0" dy="-2.8">C</tspan></text>
<text x="330" y="229.3" font-size="19.2" fill="#ff0000" color="#ff0000">209.2 <tspan class="deg" font-size="22" dx="-0.2" dy="2.8">°</tspan><tspan dx="0" dy="-2.8">C</tspan></text>
<text x="330.6" y="299.0" font-size="19.2" fill="#000" color="#000">209.7 <tspan class="deg" font-size="22" dx="-0.2" dy="2.8">°</tspan><tspan dx="0" dy="-2.8">C</tspan></text>
<path d="M36.52,384.93H40.62V389.00H36.52Z M43.63,384.93H47.50V389.00H43.63Z" fill="#fff"/><path d="M95.63,384.93H99.74V389.00H95.63Z M102.74,384.93H106.61V389.00H102.74Z" fill="#fff"/><path d="M154.74,384.93H158.85V389.00H154.74Z M161.86,384.93H165.72V389.00H161.86Z" fill="#fff"/><path d="M213.85,384.93H217.96V389.00H213.85Z M220.97,384.93H224.83V389.00H220.97Z" fill="#fff"/></svg>
</body></html>
